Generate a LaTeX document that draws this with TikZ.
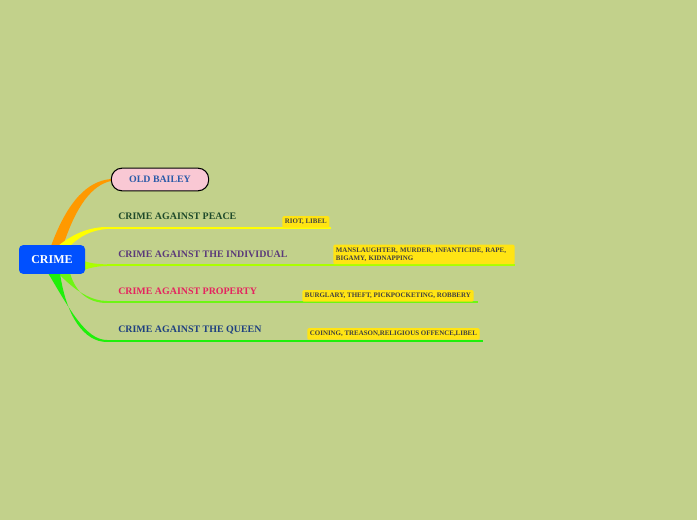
\documentclass[tikz,border=0pt]{standalone}
\usepackage{fontspec}
\setmainfont{Liberation Serif}
\definecolor{bg}{RGB}{194,209,139}
\definecolor{crimeblue}{RGB}{0,80,255}
\definecolor{bailey}{RGB}{249,200,212}
\definecolor{baileytext}{RGB}{43,91,168}
\definecolor{orangeb}{RGB}{255,153,0}
\definecolor{yellowb}{RGB}{255,255,0}
\definecolor{limeb}{RGB}{170,255,0}
\definecolor{greenb}{RGB}{110,245,20}
\definecolor{queenb}{RGB}{30,240,10}
\definecolor{tagyellow}{RGB}{255,228,20}
\definecolor{peacetext}{RGB}{30,74,42}
\definecolor{indivtext}{RGB}{91,58,122}
\definecolor{proptext}{RGB}{229,36,95}
\definecolor{queentext}{RGB}{30,63,128}
\tikzset{
  topic/.style={font=\bfseries\fontsize{7.45}{9}\selectfont,anchor=base west,inner sep=0pt},
  tag/.style={fill=tagyellow,rounded corners=1pt,inner xsep=2pt,inner ysep=2.2pt,
    font=\bfseries\fontsize{5.2}{6}\selectfont,text=black!75,align=left,anchor=south west},
  branchline/.style={line width=1.2pt}
}
\begin{document}
\begin{tikzpicture}[x=0.75pt,y=-0.75pt]
\fill[bg] (0,0) rectangle (697,520);
\useasboundingbox (0,0) rectangle (697,520);

% branches
\fill[orangeb] (51,246) .. controls (68,200) and (88,181) .. (111,179)
  -- (111,181) .. controls (92,185) and (76,206) .. (63,246) -- cycle;
\fill[yellowb] (58,246) .. controls (75,232) and (92,227) .. (107,227)
  -- (107,229) .. controls (92,230) and (80,236) .. (70,246) -- cycle;
\fill[limeb] (84,261) .. controls (92,264) and (100,264) .. (107,264.5)
  -- (107,266) .. controls (100,266) and (92,267) .. (84,270) -- cycle;
\fill[greenb] (58,273) .. controls (76,292) and (92,301) .. (107,301)
  -- (107,303) .. controls (90,303) and (76,294) .. (70,273) -- cycle;
\fill[queenb] (48,273) .. controls (70,310) and (86,340) .. (107,340)
  -- (107,342) .. controls (84,342) and (66,316) .. (60,273) -- cycle;

% root
\node[fill=crimeblue,rounded corners=3pt,
  text=white,font=\bfseries\fontsize{9}{10}\selectfont,
  minimum width=49.5pt,minimum height=21.5pt,inner sep=0pt] (crime) at (52,259.5) {CRIME};

% topics
\node[draw=black,line width=0.8pt,fill=bailey,rounded corners=8pt,
  minimum width=73pt,minimum height=17pt,inner sep=0pt,
  text=baileytext,font=\bfseries\fontsize{7.4}{9}\selectfont] (bailey) at (160,179.5) {OLD BAILEY};

\coordinate (peaceL) at (107,228);
\coordinate (peaceR) at (331,228);
\draw[yellowb,branchline] (peaceL) -- (peaceR);
\node[topic,text=peacetext] (peace) at (118,219.5) {CRIME AGAINST PEACE};
\node[tag] (riot) at (282,228) {RIOT, LIBEL};

\coordinate (indivL) at (107,265.3);
\coordinate (indivR) at (515,265.3);
\draw[limeb,branchline] (indivL) -- (indivR);
\node[topic,text=indivtext] (indiv) at (118,257.5) {CRIME AGAINST THE INDIVIDUAL};
\node[tag,text width=132pt] (mans) at (333,264.5) {MANSLAUGHTER, MURDER, INFANTICIDE, RAPE,\\BIGAMY, KIDNAPPING};

\coordinate (propL) at (107,302);
\coordinate (propR) at (478,302);
\draw[greenb,branchline] (propL) -- (propR);
\node[topic,text=proptext] (prop) at (118,294.5) {CRIME AGAINST PROPERTY};
\node[tag] (burg) at (302,302) {BURGLARY, THEFT, PICKPOCKETING, ROBBERY};

\coordinate (queenL) at (107,341);
\coordinate (queenR) at (483,341);
\draw[queenb,branchline] (queenL) -- (queenR);
\node[topic,text=queentext] (queen) at (118,332.5) {CRIME AGAINST THE QUEEN};
\node[tag] (coin) at (307,340) {COINING, TREASON,RELIGIOUS OFFENCE,LIBEL};

\end{tikzpicture}
\end{document}
